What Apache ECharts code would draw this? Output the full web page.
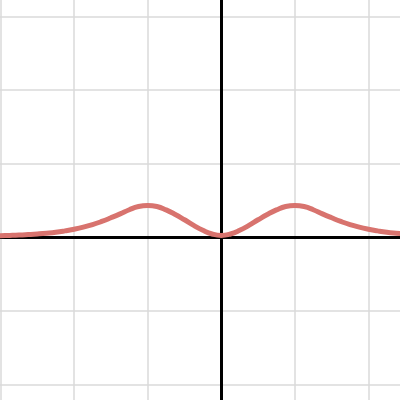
<!DOCTYPE html>
<html>
<head>
<meta charset="utf-8">
<script src="https://cdn.jsdelivr.net/npm/echarts@6/dist/echarts.min.js"></script>
<style>
  html, body { margin: 0; padding: 0; background: #fff; overflow: hidden; width: 400px; height: 400px; }
  /* the chart is bigger than the window and shifted, so the origin lands where it does in the picture */
  #chart { position: absolute; left: -73.4px; top: -57.1px; width: 515.2px; height: 515.2px; }
</style>
</head>
<body>
<div id="chart"></div>
<script>
// curve points (one grid square = 1 unit), even steps of 1/8
const xValues = [-3.5, -3.375, -3.25, -3.125, -3, -2.875, -2.75, -2.625, -2.5, -2.375, -2.25, -2.125,
                 -2, -1.875, -1.75, -1.625, -1.5, -1.375, -1.25, -1.125, -1, -0.875, -0.75, -0.625,
                 -0.5, -0.375, -0.25, -0.125, 0, 0.125, 0.25, 0.375, 0.5, 0.625, 0.75, 0.875,
                 1, 1.125, 1.25, 1.375, 1.5, 1.625, 1.75, 1.875, 2, 2.125, 2.25, 2.375,
                 2.5, 2.625, 2.75, 2.875, 3];
const yValues = [0.012, 0.013, 0.015, 0.018, 0.021, 0.025, 0.03, 0.037, 0.045, 0.055, 0.068, 0.087,
                 0.11, 0.138, 0.172, 0.215, 0.265, 0.318, 0.375, 0.418, 0.432, 0.418, 0.372, 0.31,
                 0.238, 0.162, 0.095, 0.045, 0.025, 0.045, 0.095, 0.162, 0.238, 0.31, 0.372, 0.418,
                 0.432, 0.418, 0.375, 0.318, 0.265, 0.215, 0.172, 0.138, 0.11, 0.087, 0.068, 0.055,
                 0.045, 0.037, 0.03, 0.025, 0.021];

const curveColor = '#d8736e'

let chart = echarts.init(document.getElementById('chart'), null, { renderer: 'canvas' })

const option = {
    animation: false,
    grid: {
        left: 0,
        right: 0,
        top: 0,
        bottom: 0,
        containLabel: false
    },
    xAxis: {
        type: 'value',
        min: -4,
        max: 3,
        interval: 1,
        axisLine: { show: true, onZero: true, lineStyle: { color: '#000', width: 3 } },
        axisTick: { show: false },
        axisLabel: { show: false },
        splitLine: { show: true, lineStyle: { color: '#dadada', width: 1.5 } }
    },
    yAxis: {
        type: 'value',
        min: -3,
        max: 4,
        interval: 1,
        axisLine: { show: true, onZero: true, lineStyle: { color: '#000', width: 3 } },
        axisTick: { show: false },
        axisLabel: { show: false },
        splitLine: { show: true, lineStyle: { color: '#dadada', width: 1.5 } }
    },
    series: [
        {
            type: 'line',
            data: xValues.map((x, i) => [x, yValues[i]]),
            smooth: 0.5,
            showSymbol: false,
            z: 1,
            lineStyle: { color: curveColor, width: 5 }
        }
    ]
}

chart.setOption(option)
</script>
</body>
</html>
